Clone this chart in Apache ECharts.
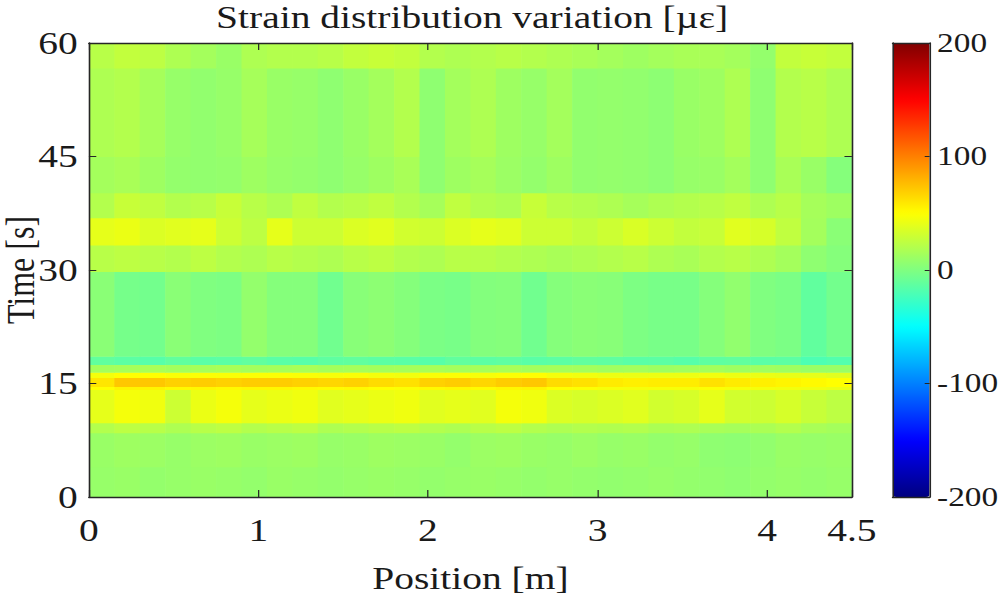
<!DOCTYPE html>
<html>
<head>
<meta charset="utf-8">
<script src="https://cdn.jsdelivr.net/npm/echarts@6/dist/echarts.min.js"></script>
<style>
  html, body { margin: 0; padding: 0; background: #fff; overflow: hidden; }
  /* the source figure is stretched sideways, so the chart is drawn narrow and widened */
  #main { width: 810px; height: 598px; transform: scaleX(1.2346); transform-origin: 0 0; }
</style>
</head>
<body>
<div id="main"></div>
<script>
// position column edges [m]
var posEdges = [0, 0.15, 0.3, 0.45, 0.6, 0.75, 0.9, 1.05, 1.2, 1.35, 1.5, 1.65, 1.8, 1.95, 2.1,
    2.25, 2.4, 2.55, 2.7, 2.85, 3.0, 3.15, 3.3, 3.45, 3.6, 3.75, 3.9, 4.05, 4.2, 4.35, 4.5];

// time band edges [s]
var timeEdges = [0, 4, 8.5, 9.8, 14.2, 14.6, 15.8, 16.5, 17.5, 18.6, 29.8, 33.3, 36.9, 40.2, 45, 56.7, 60];

// strain per band, one value per position column [µε]
var strain_0_4     = [9,10,8,9,10,9,8,10,9,8,9,10,9,8,9,10,9,8,9,8,7,8,9,8,7,6,8,9,8,9];
var strain_4_85    = [10,12,11,9,11,12,10,11,12,9,10,12,11,10,8,11,12,10,9,11,9,10,8,9,6,5,7,10,9,10];
var strain_85_98   = [20,24,22,18,22,24,20,22,24,18,20,22,24,20,18,22,24,20,18,20,19,20,17,18,16,15,17,20,16,14];
var strain_98_142  = [40,46,44,30,42,46,40,42,44,38,40,42,44,38,40,38,46,44,36,34,36,38,32,34,40,32,30,34,28,24];
var strain_142_146 = [50,54,54,52,53,52,53,53,52,51,52,50,49,52,53,51,53,54,50,49,47,46,47,47,49,47,46,45,44,42];
var strain_146_158 = [60,72,72,68,70,68,70,70,68,66,68,64,62,68,70,66,70,72,64,62,58,56,57,57,62,58,56,54,52,50];
var strain_158_165 = [46,50,50,48,49,48,49,49,48,47,48,46,45,48,49,47,49,50,46,45,43,42,43,43,45,43,42,41,40,38];
var strain_165_175 = [14,15,16,14,15,16,14,15,16,14,15,14,15,16,14,15,16,14,15,14,13,14,12,13,14,12,13,12,10,10];
var strain_175_186 = [-12,-14,-16,-12,-15,-14,-12,-15,-16,-13,-12,-14,-15,-16,-12,-14,-13,-15,-14,-12,-13,-15,-14,-16,-13,-12,-15,-14,-20,-18];
var strain_186_298 = [4,-4,-5,4,0,-1,8,2,2,-6,3,5,2,-2,-3,1,2,-6,2,4,3,-1,-3,-3,2,7,0,-2,-12,-5];
var strain_298_333 = [22,24,22,20,24,20,18,22,20,18,22,24,20,18,22,22,20,18,16,18,20,22,18,16,20,22,18,14,6,2];
var strain_333_369 = [40,42,36,38,40,30,24,40,30,30,36,38,32,30,36,40,38,30,30,26,30,35,30,26,28,38,34,25,14,4];
var strain_369_402 = [20,28,25,20,22,28,22,18,25,20,22,25,20,15,25,20,18,28,22,20,18,15,18,20,22,25,18,22,15,12];
var strain_402_45  = [14,16,12,8,7,8,12,9,8,6,9,12,16,6,12,15,11,8,12,7,8,7,5,9,10,14,6,16,10,2];
var strain_45_567  = [18,20,15,9,7,9,15,10,9,6,10,14,20,6,14,18,12,9,14,7,8,7,5,10,12,18,6,20,22,18];
var strain_567_60  = [22,26,24,18,14,10,18,20,20,22,26,28,26,20,18,20,22,20,18,16,14,12,14,16,16,14,8,26,28,26];

var strainBands = [strain_0_4, strain_4_85, strain_85_98, strain_98_142, strain_142_146, strain_146_158,
    strain_158_165, strain_165_175, strain_175_186, strain_186_298, strain_298_333, strain_333_369,
    strain_369_402, strain_402_45, strain_45_567, strain_567_60];

// jet colormap stops
var jetColors = ['#000080', '#0000ff', '#0080ff', '#00ffff', '#80ff80', '#ffff00', '#ff8000', '#ff0000', '#800000'];

var FONT = '"Liberation Serif", "Times New Roman", serif';
var INK = '#1a1a1a';
var LINE = '#262626';

var cells = [];
for (var b = 0; b < strainBands.length; b++) {
    for (var c = 0; c < posEdges.length - 1; c++) {
        cells.push([posEdges[c], posEdges[c + 1], timeEdges[b], timeEdges[b + 1], strainBands[b][c]]);
    }
}

function renderCell(params, api) {
    var p0 = api.coord([api.value(0), api.value(3)]);
    var p1 = api.coord([api.value(1), api.value(2)]);
    return {
        type: 'rect',
        shape: { x: p0[0], y: p0[1], width: p1[0] - p0[0] + 0.5, height: p1[1] - p0[1] + 0.5 },
        style: { fill: api.visual('color') }
    };
}

function frameAxis(grid, pos, min, max) {
    return {
        gridIndex: grid, type: 'value', position: pos, min: min, max: max, z: 10,
        axisLine: { show: true, onZero: false, lineStyle: { color: LINE, width: 1.3 } },
        axisTick: { show: false }, axisLabel: { show: false }, splitLine: { show: false }
    };
}

var myChart = echarts.init(document.getElementById('main'), null, { renderer: 'svg' });

var option = {
    animation: false,
    title: {
        text: 'Strain distribution variation [µε]',
        left: 175, top: 1, padding: 0,
        textStyle: { fontFamily: FONT, fontSize: 32, fontWeight: 'normal', color: INK }
    },
    grid: [
        { left: 72, right: 120, top: 43, bottom: 101, containLabel: false, outerBoundsMode: 'none' },
        { left: 723, right: 57, top: 43, bottom: 101, containLabel: false, outerBoundsMode: 'none' }
    ],
    xAxis: [
        {
            gridIndex: 0, type: 'value', position: 'bottom', min: 0, max: 4.5, interval: 1, z: 10,
            name: 'Position [m]', nameLocation: 'middle', nameGap: 65, nameMoveOverlap: false,
            nameTextStyle: { fontFamily: FONT, fontSize: 32, color: INK },
            axisLine: { show: true, onZero: false, lineStyle: { color: LINE, width: 1.3 } },
            axisTick: { inside: true, length: 7, lineStyle: { color: LINE, width: 1 } },
            axisLabel: { fontFamily: FONT, fontSize: 32, color: INK, margin: 17 },
            splitLine: { show: false }
        },
        {
            gridIndex: 0, type: 'value', position: 'top', min: 0, max: 4.5, interval: 1, z: 10,
            axisLine: { show: true, onZero: false, lineStyle: { color: LINE, width: 1.3 } },
            axisTick: { inside: true, length: 7, lineStyle: { color: LINE, width: 1 } },
            axisLabel: { show: false }, splitLine: { show: false }
        },
        frameAxis(1, 'bottom', 0, 1),
        frameAxis(1, 'top', 0, 1)
    ],
    yAxis: [
        {
            gridIndex: 0, type: 'value', position: 'left', min: 0, max: 60, interval: 15, z: 10,
            name: 'Time [s]', nameLocation: 'middle', nameGap: 40, nameRotate: 90, nameMoveOverlap: false,
            nameTextStyle: { fontFamily: FONT, fontSize: 32, lineHeight: 30, color: INK },
            axisLine: { show: true, onZero: false, lineStyle: { color: LINE, width: 1.3 } },
            axisTick: { inside: true, length: 6, lineStyle: { color: LINE, width: 1 } },
            axisLabel: { fontFamily: FONT, fontSize: 32, color: INK, margin: 9 },
            splitLine: { show: false }
        },
        {
            gridIndex: 0, type: 'value', position: 'right', min: 0, max: 60, interval: 15, z: 10,
            axisLine: { show: true, onZero: false, lineStyle: { color: LINE, width: 1.3 } },
            axisTick: { inside: true, length: 6, lineStyle: { color: LINE, width: 1 } },
            axisLabel: { show: false }, splitLine: { show: false }
        },
        frameAxis(1, 'left', -200, 200),
        {
            gridIndex: 1, type: 'value', position: 'right', min: -200, max: 200, interval: 100, z: 10,
            axisLine: { show: true, onZero: false, lineStyle: { color: LINE, width: 1.3 } },
            axisTick: { inside: true, length: 4, lineStyle: { color: LINE, width: 1 } },
            axisLabel: { fontFamily: FONT, fontSize: 27, color: INK, margin: 6 },
            splitLine: { show: false }
        }
    ],
    visualMap: {
        type: 'continuous', min: -200, max: 200, seriesIndex: 0, dimension: 4,
        calculable: false, hoverLink: false, padding: 0,
        left: 723, top: 43, itemWidth: 30, itemHeight: 454,
        inRange: { color: jetColors }
    },
    series: [
        {
            type: 'custom',
            xAxisIndex: 0, yAxisIndex: 0,
            renderItem: renderCell,
            clip: true,
            data: cells
        }
    ]
};

myChart.setOption(option);
</script>
</body>
</html>
